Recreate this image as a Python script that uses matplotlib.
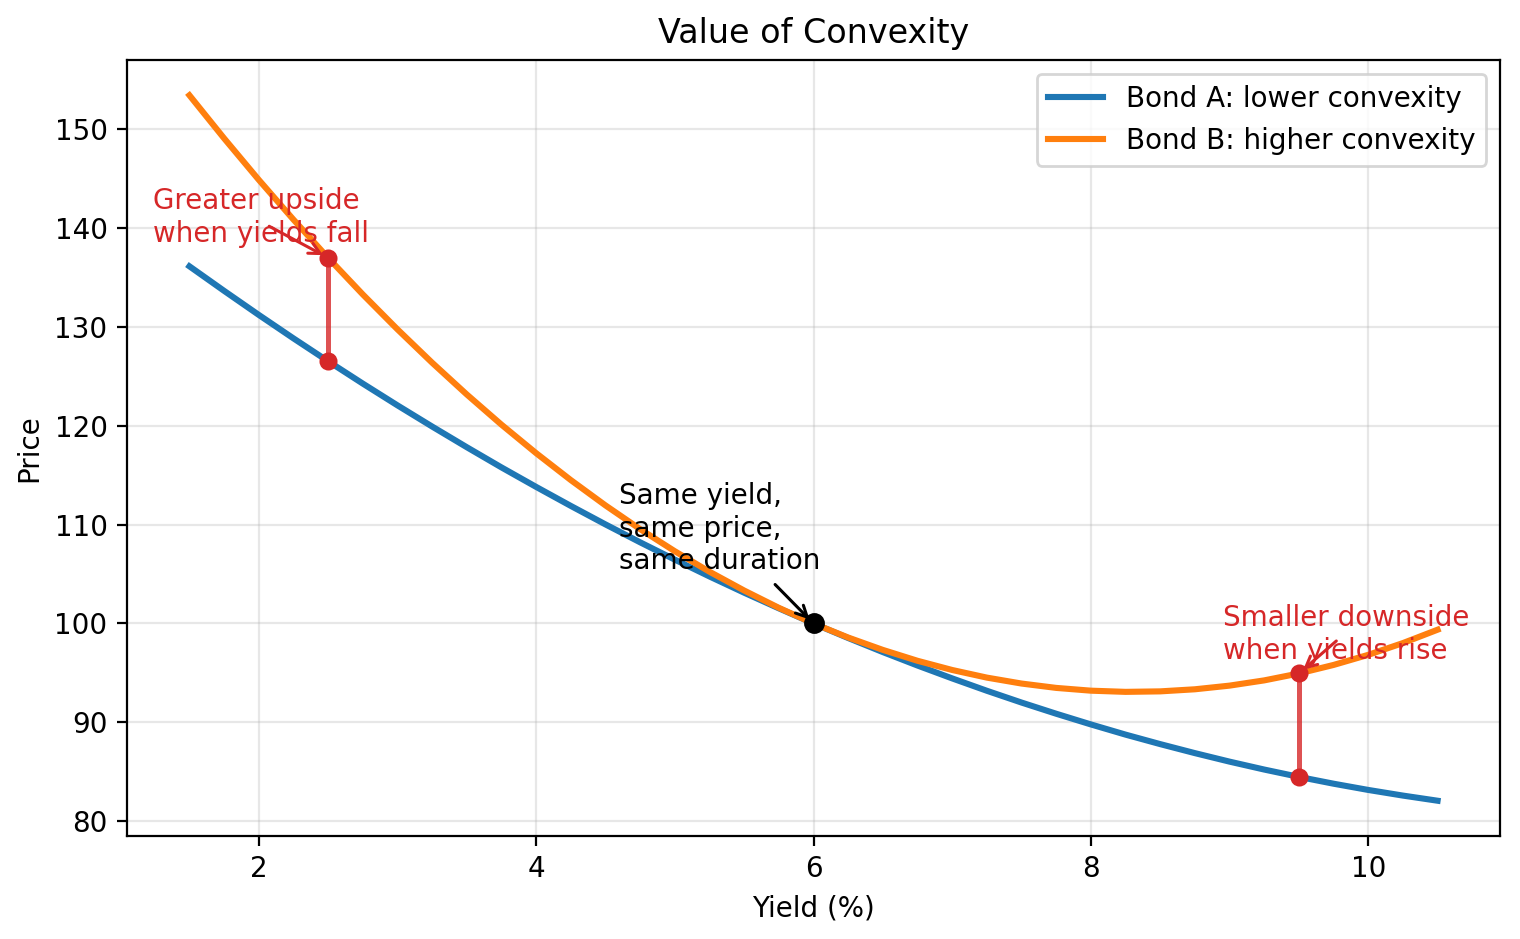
import matplotlib
matplotlib.use("Agg")
import matplotlib.pyplot as plt

# Yield grid (%) and prices
yields = [1.5, 1.75, 2.0, 2.25, 2.5, 2.75, 3.0, 3.25, 3.5, 3.75, 4.0, 4.25, 4.5, 4.75,
          5.0, 5.25, 5.5, 5.75, 6.0, 6.25, 6.5, 6.75, 7.0, 7.25, 7.5, 7.75, 8.0, 8.25,
          8.5, 8.75, 9.0, 9.25, 9.5, 9.75, 10.0, 10.25, 10.5]
bond_a = [136.09, 133.61, 131.18, 128.81, 126.50, 124.24, 122.04, 119.90, 117.81, 115.77,
          113.80, 111.88, 110.01, 108.20, 106.45, 104.75, 103.11, 101.53, 100.00, 98.53,
          97.11, 95.75, 94.45, 93.20, 92.01, 90.88, 89.80, 88.77, 87.81, 86.90, 86.04,
          85.24, 84.50, 83.81, 83.18, 82.61, 82.09]
bond_b = [153.37, 149.02, 144.83, 140.81, 136.95, 133.25, 129.72, 126.35, 123.14, 120.09,
          117.21, 114.49, 111.93, 109.53, 107.30, 105.23, 103.33, 101.58, 100.00, 98.58,
          97.33, 96.23, 95.30, 94.53, 93.93, 93.49, 93.21, 93.09, 93.14, 93.35, 93.72,
          94.25, 94.95, 95.81, 96.83, 98.02, 99.37]

series_labels = ["Bond A: lower convexity", "Bond B: higher convexity"]

# Highlighted comparison points
low_yield, low_a, low_b = 2.5, 126.50, 136.95
high_yield, high_a, high_b = 9.5, 84.50, 94.95
base_yield, base_price = 6.0, 100.0

red = "#d62728"
DPI = 200

fig = plt.figure(figsize=(1520 / DPI, 939 / DPI), dpi=DPI)
ax = fig.add_axes([127 / 1520, 1 - 836 / 939, (1500 - 127) / 1520, (836 - 60) / 939])

ax.plot(yields, bond_a, color="#1f77b4", lw=2.2, label=series_labels[0])
ax.plot(yields, bond_b, color="#ff7f0e", lw=2.2, label=series_labels[1])

# vertical gaps
ax.plot([low_yield, low_yield], [low_a, low_b], color=red, lw=1.8, alpha=0.8)
ax.plot([high_yield, high_yield], [high_a, high_b], color=red, lw=1.8, alpha=0.8)
ax.plot([low_yield, low_yield, high_yield, high_yield], [low_a, low_b, high_a, high_b],
        "o", color=red, ms=5.5, ls="none")

ax.plot([base_yield], [base_price], "o", color="black", ms=6.5)

# annotations
ax.text(1.24, 141.0, "Greater upside\nwhen yields fall", color=red, fontsize=10,
        ha="left", va="center")
ax.annotate("", xy=(low_yield, low_b), xytext=(2.04, 140.4),
            arrowprops=dict(arrowstyle="->", color=red, lw=1.1))

ax.text(8.955, 98.9, "Smaller downside\nwhen yields rise", color=red, fontsize=10,
        ha="left", va="center")
ax.annotate("", xy=(high_yield, high_b), xytext=(9.80, 98.6),
            arrowprops=dict(arrowstyle="->", color=red, lw=1.1))

ax.annotate("Same yield,\nsame price,\nsame duration", xy=(base_yield, base_price),
            xytext=(4.6, 104.9), ha="left", va="bottom", fontsize=10,
            arrowprops=dict(arrowstyle="->", color="black", lw=1.1))

ax.set_title("Value of Convexity", fontsize=12)
ax.set_xlabel("Yield (%)")
ax.set_ylabel("Price")
ax.grid(True, alpha=0.3)
ax.legend(loc="upper right")

fig.savefig("out.png", dpi=DPI)
